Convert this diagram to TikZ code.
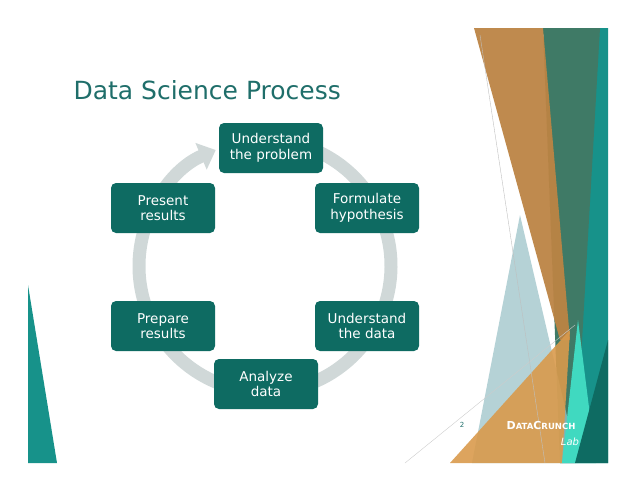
\documentclass[tikz,border=0pt]{standalone}
\usepackage{fontspec}
\setmainfont{DejaVu Sans}
\usetikzlibrary{arrows.meta}
\definecolor{boxc}{HTML}{0E6B62}
\definecolor{titc}{HTML}{1F6E6A}
\definecolor{ringc}{HTML}{D0D8D8}
\definecolor{orng}{HTML}{BC8444}
\definecolor{orng2}{HTML}{D99A4C}
\definecolor{dgrn}{HTML}{3F7A66}
\definecolor{teal}{HTML}{17928A}
\definecolor{turq}{HTML}{40D9C0}
\definecolor{lblu}{HTML}{9CC3C8}
\tikzset{stepbox/.style={rectangle,rounded corners=5pt,fill=boxc,text=white,minimum width=104pt,minimum height=50pt,align=center,font=\fontsize{13.5}{15.5}\selectfont}}
\begin{document}
\begin{tikzpicture}[x=1pt,y=-1pt]
\useasboundingbox (0,0) rectangle (638,493);
% decorations
\fill[teal] (598,28) -- (608,28) -- (608,463) -- (560,463) -- cycle;
\fill[dgrn] (543,28) -- (600,28) -- (575,463) -- (560,463) -- cycle;
\fill[orng,opacity=0.95] (474,28) -- (543,28) -- (570,340) -- (560,340) -- cycle;
\fill[lblu,opacity=0.75] (520,215) -- (578,463) -- (472,463) -- cycle;
\fill[orng2,opacity=0.9] (450,463) -- (570,330) -- (562,463) -- cycle;
\fill[turq] (578,320) -- (596,463) -- (562,463) -- cycle;
\fill[boxc] (608,340) -- (608,463) -- (575,463) -- cycle;
\draw[gray!50,thin] (480,35) -- (545,463);
\draw[gray!40,thin] (405,463) -- (575,325);
\fill[teal] (28,285) -- (57,463) -- (28,463) -- cycle;
% logo
\node[text=white,font=\bfseries\fontsize{11}{11}\selectfont] (logo) at (541,425) {D\fontsize{8.5}{8}\selectfont ATA\fontsize{11}{11}\selectfont C\fontsize{8.5}{8}\selectfont RUNCH};
\node[text=white,font=\itshape\fontsize{10}{10}\selectfont] (lab) at (570,442) {Lab};
\node[text=titc,font=\fontsize{7}{7}\selectfont] (pg) at (462,425) {2};
% title
\node[anchor=west,text=titc,font=\fontsize{25}{25}\selectfont] (title) at (70,90) {Data Science Process};
% ring
\draw[ringc,line width=13pt,-{Triangle[length=16pt,width=28pt]}] (265,266) ++(-85:126) arc[start angle=-85,end angle=247,radius=126];
% boxes
\node[stepbox] (a) at (271,148) {Understand\\the problem};
\node[stepbox] (b) at (367,208) {Formulate\\hypothesis};
\node[stepbox] (c) at (367,326) {Understand\\the data};
\node[stepbox] (d) at (266,384) {Analyze\\data};
\node[stepbox] (e) at (163,326) {Prepare\\results};
\node[stepbox] (f) at (163,208) {Present\\results};
\end{tikzpicture}
\end{document}
